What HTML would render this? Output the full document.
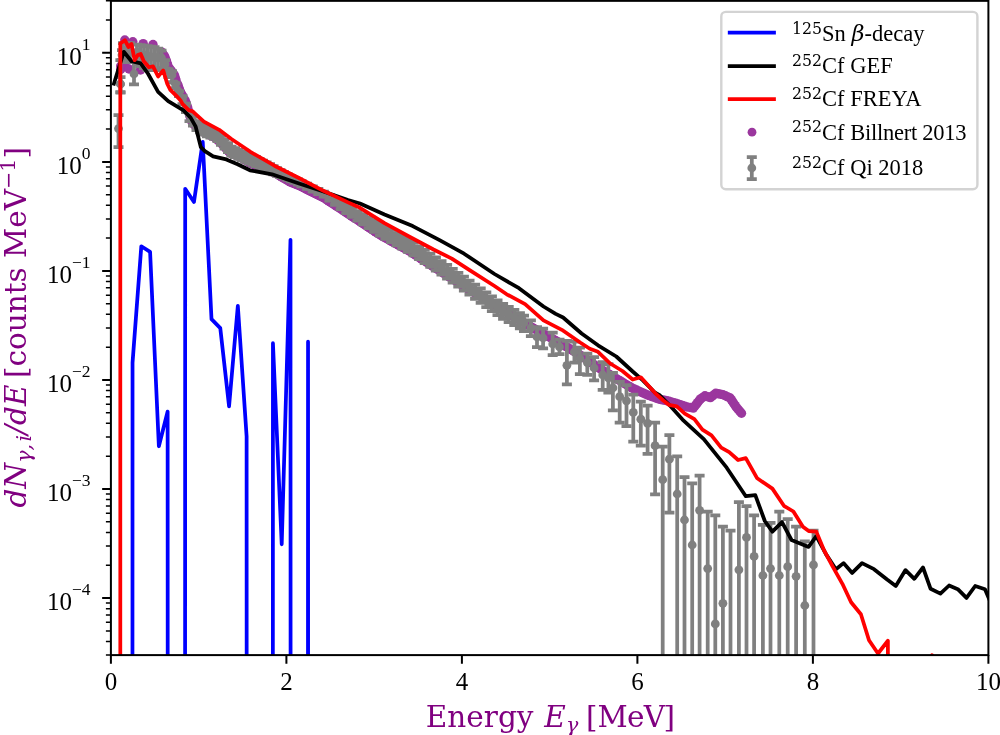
<!DOCTYPE html>
<html><head><meta charset="utf-8"><style>html,body{margin:0;padding:0;background:#fff;width:1000px;height:735px;overflow:hidden}svg{display:block}</style></head><body>
<svg width="1000" height="735" viewBox="0 0 1000 735">
<rect width="1000" height="735" fill="#fff"/>
<defs><clipPath id="ax"><rect x="110.9" y="0.84" width="877.5" height="654.26"/></clipPath></defs>
<g clip-path="url(#ax)">
<g fill="#9b379e">
<circle cx="120.7" cy="66" r="4.7"/>
<circle cx="120.7" cy="69.5" r="4.7"/>
<circle cx="124.8" cy="40" r="4.7"/>
<circle cx="125" cy="64" r="4.7"/>
<circle cx="129" cy="69" r="4.7"/>
<circle cx="132.8" cy="41.7" r="4.7"/>
<circle cx="140.5" cy="70" r="4.7"/>
<circle cx="143.2" cy="43.6" r="4.7"/>
<circle cx="153" cy="44.5" r="4.7"/>
<circle cx="161.5" cy="51.9" r="4.7"/>
<circle cx="163" cy="53.95" r="4.7"/>
<circle cx="164.5" cy="56" r="4.7"/>
<circle cx="165.5" cy="58.5" r="4.7"/>
<circle cx="166.5" cy="61" r="4.7"/>
<circle cx="167.5" cy="64" r="4.7"/>
<circle cx="168.5" cy="67" r="4.7"/>
<circle cx="170" cy="69" r="4.7"/>
<circle cx="171.5" cy="71" r="4.7"/>
<circle cx="172.95" cy="73" r="4.7"/>
<circle cx="174.4" cy="75" r="4.7"/>
<circle cx="175.2" cy="77.5" r="4.7"/>
<circle cx="176" cy="80" r="4.7"/>
<circle cx="177.5" cy="84" r="4.7"/>
<circle cx="178.5" cy="86.67" r="4.7"/>
<circle cx="179.5" cy="89.33" r="4.7"/>
<circle cx="180.5" cy="92" r="4.7"/>
<circle cx="181.75" cy="94.25" r="4.7"/>
<circle cx="183" cy="96.5" r="4.7"/>
<circle cx="185" cy="100" r="4.7"/>
<circle cx="185.83" cy="102.33" r="4.7"/>
<circle cx="186.67" cy="104.67" r="4.7"/>
<circle cx="187.5" cy="107" r="4.7"/>
<circle cx="188.17" cy="109.67" r="4.7"/>
<circle cx="188.83" cy="112.33" r="4.7"/>
<circle cx="189.5" cy="115" r="4.7"/>
<circle cx="190.33" cy="117.33" r="4.7"/>
<circle cx="191.17" cy="119.67" r="4.7"/>
<circle cx="192" cy="122" r="4.7"/>
<circle cx="193.67" cy="124" r="4.7"/>
<circle cx="195.33" cy="126" r="4.7"/>
<circle cx="197" cy="128" r="4.7"/>
<circle cx="199" cy="129.25" r="4.7"/>
<circle cx="201" cy="130.5" r="4.7"/>
<circle cx="203" cy="131.75" r="4.7"/>
<circle cx="205" cy="133" r="4.7"/>
<circle cx="207.25" cy="134" r="4.7"/>
<circle cx="209.5" cy="135" r="4.7"/>
<circle cx="211.75" cy="136" r="4.7"/>
<circle cx="214" cy="137" r="4.7"/>
<circle cx="216" cy="138.75" r="4.7"/>
<circle cx="218" cy="140.5" r="4.7"/>
<circle cx="220" cy="142.25" r="4.7"/>
<circle cx="222" cy="144" r="4.7"/>
<circle cx="223.6" cy="145.8" r="4.7"/>
<circle cx="225.2" cy="147.6" r="4.7"/>
<circle cx="226.8" cy="149.4" r="4.7"/>
<circle cx="228.4" cy="151.2" r="4.7"/>
<circle cx="230" cy="153" r="4.7"/>
<circle cx="232.5" cy="154" r="4.7"/>
<circle cx="235" cy="155" r="4.7"/>
<circle cx="237.5" cy="156" r="4.7"/>
<circle cx="240" cy="157" r="4.7"/>
<circle cx="242" cy="158.2" r="4.7"/>
<circle cx="244" cy="159.4" r="4.7"/>
<circle cx="246" cy="160.6" r="4.7"/>
<circle cx="248" cy="161.8" r="4.7"/>
<circle cx="250" cy="163" r="4.7"/>
<circle cx="252.5" cy="164" r="4.7"/>
<circle cx="255" cy="165" r="4.7"/>
<circle cx="257.5" cy="166" r="4.7"/>
<circle cx="260" cy="167" r="4.7"/>
<circle cx="262.14" cy="167.86" r="4.7"/>
<circle cx="264.29" cy="168.71" r="4.7"/>
<circle cx="266.43" cy="169.57" r="4.7"/>
<circle cx="268.57" cy="170.43" r="4.7"/>
<circle cx="270.71" cy="171.29" r="4.7"/>
<circle cx="272.86" cy="172.14" r="4.7"/>
<circle cx="275" cy="173" r="4.7"/>
<circle cx="277.14" cy="174.29" r="4.7"/>
<circle cx="279.29" cy="175.57" r="4.7"/>
<circle cx="281.43" cy="176.86" r="4.7"/>
<circle cx="283.57" cy="178.14" r="4.7"/>
<circle cx="285.71" cy="179.43" r="4.7"/>
<circle cx="287.86" cy="180.71" r="4.7"/>
<circle cx="290" cy="182" r="4.7"/>
<circle cx="292.5" cy="183" r="4.7"/>
<circle cx="295" cy="184" r="4.7"/>
<circle cx="297.5" cy="185" r="4.7"/>
<circle cx="300" cy="186" r="4.7"/>
<circle cx="302.04" cy="187.03" r="4.7"/>
<circle cx="304.08" cy="188.05" r="4.7"/>
<circle cx="306.12" cy="189.07" r="4.7"/>
<circle cx="308.17" cy="190.1" r="4.7"/>
<circle cx="310.21" cy="191.12" r="4.7"/>
<circle cx="312.25" cy="192.15" r="4.7"/>
<circle cx="314.29" cy="193.18" r="4.7"/>
<circle cx="316.33" cy="194.2" r="4.7"/>
<circle cx="318.38" cy="195.23" r="4.7"/>
<circle cx="320.42" cy="196.25" r="4.7"/>
<circle cx="322.46" cy="197.28" r="4.7"/>
<circle cx="324.5" cy="198.3" r="4.7"/>
<circle cx="326.44" cy="199.58" r="4.7"/>
<circle cx="328.38" cy="200.85" r="4.7"/>
<circle cx="330.31" cy="202.12" r="4.7"/>
<circle cx="332.25" cy="203.4" r="4.7"/>
<circle cx="334.19" cy="204.68" r="4.7"/>
<circle cx="336.12" cy="205.95" r="4.7"/>
<circle cx="338.06" cy="207.22" r="4.7"/>
<circle cx="340" cy="208.5" r="4.7"/>
<circle cx="341.86" cy="209.73" r="4.7"/>
<circle cx="343.73" cy="210.95" r="4.7"/>
<circle cx="345.59" cy="212.18" r="4.7"/>
<circle cx="347.45" cy="213.41" r="4.7"/>
<circle cx="349.32" cy="214.64" r="4.7"/>
<circle cx="351.18" cy="215.86" r="4.7"/>
<circle cx="353.05" cy="217.09" r="4.7"/>
<circle cx="354.91" cy="218.32" r="4.7"/>
<circle cx="356.77" cy="219.55" r="4.7"/>
<circle cx="358.64" cy="220.77" r="4.7"/>
<circle cx="360.5" cy="222" r="4.7"/>
<circle cx="362.36" cy="223.23" r="4.7"/>
<circle cx="364.23" cy="224.45" r="4.7"/>
<circle cx="366.09" cy="225.68" r="4.7"/>
<circle cx="367.95" cy="226.91" r="4.7"/>
<circle cx="369.82" cy="228.14" r="4.7"/>
<circle cx="371.68" cy="229.36" r="4.7"/>
<circle cx="373.55" cy="230.59" r="4.7"/>
<circle cx="375.41" cy="231.82" r="4.7"/>
<circle cx="377.27" cy="233.05" r="4.7"/>
<circle cx="379.14" cy="234.27" r="4.7"/>
<circle cx="381" cy="235.5" r="4.7"/>
<circle cx="382.93" cy="236.57" r="4.7"/>
<circle cx="384.87" cy="237.63" r="4.7"/>
<circle cx="386.8" cy="238.7" r="4.7"/>
<circle cx="388.73" cy="239.77" r="4.7"/>
<circle cx="390.67" cy="240.83" r="4.7"/>
<circle cx="392.6" cy="241.9" r="4.7"/>
<circle cx="394.53" cy="242.97" r="4.7"/>
<circle cx="396.47" cy="244.03" r="4.7"/>
<circle cx="398.4" cy="245.1" r="4.7"/>
<circle cx="400.33" cy="246.17" r="4.7"/>
<circle cx="402.27" cy="247.23" r="4.7"/>
<circle cx="404.2" cy="248.3" r="4.7"/>
<circle cx="406.13" cy="249.37" r="4.7"/>
<circle cx="408.07" cy="250.43" r="4.7"/>
<circle cx="410" cy="251.5" r="4.7"/>
<circle cx="411.88" cy="252.72" r="4.7"/>
<circle cx="413.75" cy="253.94" r="4.7"/>
<circle cx="415.62" cy="255.16" r="4.7"/>
<circle cx="417.5" cy="256.38" r="4.7"/>
<circle cx="419.38" cy="257.59" r="4.7"/>
<circle cx="421.25" cy="258.81" r="4.7"/>
<circle cx="423.12" cy="260.03" r="4.7"/>
<circle cx="425" cy="261.25" r="4.7"/>
<circle cx="426.88" cy="262.47" r="4.7"/>
<circle cx="428.75" cy="263.69" r="4.7"/>
<circle cx="430.62" cy="264.91" r="4.7"/>
<circle cx="432.5" cy="266.12" r="4.7"/>
<circle cx="434.38" cy="267.34" r="4.7"/>
<circle cx="436.25" cy="268.56" r="4.7"/>
<circle cx="438.12" cy="269.78" r="4.7"/>
<circle cx="440" cy="271" r="4.7"/>
<circle cx="441.88" cy="272.19" r="4.7"/>
<circle cx="443.75" cy="273.38" r="4.7"/>
<circle cx="445.62" cy="274.56" r="4.7"/>
<circle cx="447.5" cy="275.75" r="4.7"/>
<circle cx="449.38" cy="276.94" r="4.7"/>
<circle cx="451.25" cy="278.12" r="4.7"/>
<circle cx="453.12" cy="279.31" r="4.7"/>
<circle cx="455" cy="280.5" r="4.7"/>
<circle cx="456.88" cy="281.69" r="4.7"/>
<circle cx="458.75" cy="282.88" r="4.7"/>
<circle cx="460.62" cy="284.06" r="4.7"/>
<circle cx="462.5" cy="285.25" r="4.7"/>
<circle cx="464.38" cy="286.44" r="4.7"/>
<circle cx="466.25" cy="287.62" r="4.7"/>
<circle cx="468.12" cy="288.81" r="4.7"/>
<circle cx="470" cy="290" r="4.7"/>
<circle cx="472" cy="291.2" r="4.7"/>
<circle cx="474" cy="292.4" r="4.7"/>
<circle cx="476" cy="293.6" r="4.7"/>
<circle cx="478" cy="294.8" r="4.7"/>
<circle cx="480" cy="296" r="4.7"/>
<circle cx="482" cy="297.2" r="4.7"/>
<circle cx="484" cy="298.4" r="4.7"/>
<circle cx="486" cy="299.6" r="4.7"/>
<circle cx="488" cy="300.8" r="4.7"/>
<circle cx="490" cy="302" r="4.7"/>
<circle cx="492" cy="303.2" r="4.7"/>
<circle cx="494" cy="304.4" r="4.7"/>
<circle cx="496" cy="305.6" r="4.7"/>
<circle cx="498" cy="306.8" r="4.7"/>
<circle cx="500" cy="308" r="4.7"/>
<circle cx="502" cy="309.24" r="4.7"/>
<circle cx="504" cy="310.48" r="4.7"/>
<circle cx="506" cy="311.72" r="4.7"/>
<circle cx="508" cy="312.96" r="4.7"/>
<circle cx="510" cy="314.2" r="4.7"/>
<circle cx="512" cy="315.44" r="4.7"/>
<circle cx="514" cy="316.68" r="4.7"/>
<circle cx="516" cy="317.92" r="4.7"/>
<circle cx="518" cy="319.16" r="4.7"/>
<circle cx="520" cy="320.4" r="4.7"/>
<circle cx="522" cy="321.56" r="4.7"/>
<circle cx="524" cy="322.72" r="4.7"/>
<circle cx="526" cy="323.88" r="4.7"/>
<circle cx="528" cy="325.04" r="4.7"/>
<circle cx="530" cy="326.2" r="4.7"/>
<circle cx="532" cy="327.36" r="4.7"/>
<circle cx="534" cy="328.52" r="4.7"/>
<circle cx="536" cy="329.68" r="4.7"/>
<circle cx="538" cy="330.84" r="4.7"/>
<circle cx="540" cy="332" r="4.7"/>
<circle cx="542" cy="333.1" r="4.7"/>
<circle cx="544" cy="334.2" r="4.7"/>
<circle cx="546" cy="335.3" r="4.7"/>
<circle cx="548" cy="336.4" r="4.7"/>
<circle cx="550" cy="337.5" r="4.7"/>
<circle cx="552" cy="338.6" r="4.7"/>
<circle cx="554" cy="339.7" r="4.7"/>
<circle cx="556" cy="340.8" r="4.7"/>
<circle cx="558" cy="341.9" r="4.7"/>
<circle cx="560" cy="343" r="4.7"/>
<circle cx="562" cy="344.2" r="4.7"/>
<circle cx="564" cy="345.4" r="4.7"/>
<circle cx="566" cy="346.6" r="4.7"/>
<circle cx="568" cy="347.8" r="4.7"/>
<circle cx="570" cy="349" r="4.7"/>
<circle cx="572" cy="350.2" r="4.7"/>
<circle cx="574" cy="351.4" r="4.7"/>
<circle cx="576" cy="352.6" r="4.7"/>
<circle cx="578" cy="353.8" r="4.7"/>
<circle cx="580" cy="355" r="4.7"/>
<circle cx="581.82" cy="356.25" r="4.7"/>
<circle cx="583.64" cy="357.51" r="4.7"/>
<circle cx="585.45" cy="358.76" r="4.7"/>
<circle cx="587.27" cy="360.02" r="4.7"/>
<circle cx="589.09" cy="361.27" r="4.7"/>
<circle cx="590.91" cy="362.53" r="4.7"/>
<circle cx="592.73" cy="363.78" r="4.7"/>
<circle cx="594.55" cy="365.04" r="4.7"/>
<circle cx="596.36" cy="366.29" r="4.7"/>
<circle cx="598.18" cy="367.55" r="4.7"/>
<circle cx="600" cy="368.8" r="4.7"/>
<circle cx="602" cy="370" r="4.7"/>
<circle cx="604" cy="371.2" r="4.7"/>
<circle cx="606" cy="372.4" r="4.7"/>
<circle cx="608" cy="373.6" r="4.7"/>
<circle cx="610" cy="374.8" r="4.7"/>
<circle cx="612" cy="376" r="4.7"/>
<circle cx="614" cy="377.2" r="4.7"/>
<circle cx="616" cy="378.4" r="4.7"/>
<circle cx="618" cy="379.6" r="4.7"/>
<circle cx="620" cy="380.8" r="4.7"/>
<circle cx="622" cy="382" r="4.7"/>
<circle cx="624" cy="383.2" r="4.7"/>
<circle cx="626" cy="384.4" r="4.7"/>
<circle cx="628" cy="385.6" r="4.7"/>
<circle cx="630" cy="386.8" r="4.7"/>
<circle cx="632" cy="388" r="4.7"/>
<circle cx="634.29" cy="389.03" r="4.7"/>
<circle cx="636.57" cy="390.06" r="4.7"/>
<circle cx="638.86" cy="391.09" r="4.7"/>
<circle cx="641.14" cy="392.11" r="4.7"/>
<circle cx="643.43" cy="393.14" r="4.7"/>
<circle cx="645.71" cy="394.17" r="4.7"/>
<circle cx="648" cy="395.2" r="4.7"/>
<circle cx="650.4" cy="396.04" r="4.7"/>
<circle cx="652.8" cy="396.88" r="4.7"/>
<circle cx="655.2" cy="397.72" r="4.7"/>
<circle cx="657.6" cy="398.56" r="4.7"/>
<circle cx="660" cy="399.4" r="4.7"/>
<circle cx="662.25" cy="399.85" r="4.7"/>
<circle cx="664.5" cy="400.3" r="4.7"/>
<circle cx="666.75" cy="400.75" r="4.7"/>
<circle cx="669" cy="401.2" r="4.7"/>
<circle cx="671.25" cy="401.9" r="4.7"/>
<circle cx="673.5" cy="402.6" r="4.7"/>
<circle cx="675.75" cy="403.3" r="4.7"/>
<circle cx="678" cy="404" r="4.7"/>
<circle cx="680.25" cy="404.75" r="4.7"/>
<circle cx="682.5" cy="405.5" r="4.7"/>
<circle cx="684.75" cy="406.25" r="4.7"/>
<circle cx="687" cy="407" r="4.7"/>
<circle cx="690.15" cy="407.55" r="4.7"/>
<circle cx="693.3" cy="408.1" r="4.7"/>
<circle cx="694.74" cy="406.26" r="4.7"/>
<circle cx="696.18" cy="404.42" r="4.7"/>
<circle cx="697.62" cy="402.58" r="4.7"/>
<circle cx="699.06" cy="400.74" r="4.7"/>
<circle cx="700.5" cy="398.9" r="4.7"/>
<circle cx="702.75" cy="397.35" r="4.7"/>
<circle cx="705" cy="395.8" r="4.7"/>
<circle cx="707.7" cy="396.7" r="4.7"/>
<circle cx="710.4" cy="397.6" r="4.7"/>
<circle cx="712.2" cy="396.17" r="4.7"/>
<circle cx="714" cy="394.73" r="4.7"/>
<circle cx="715.8" cy="393.3" r="4.7"/>
<circle cx="718.2" cy="393.77" r="4.7"/>
<circle cx="720.6" cy="394.23" r="4.7"/>
<circle cx="723" cy="394.7" r="4.7"/>
<circle cx="725.4" cy="395.8" r="4.7"/>
<circle cx="727.8" cy="396.9" r="4.7"/>
<circle cx="730.2" cy="398" r="4.7"/>
<circle cx="731.46" cy="399.9" r="4.7"/>
<circle cx="732.72" cy="401.8" r="4.7"/>
<circle cx="733.98" cy="403.7" r="4.7"/>
<circle cx="735.24" cy="405.6" r="4.7"/>
<circle cx="736.5" cy="407.5" r="4.7"/>
<circle cx="738.17" cy="409.43" r="4.7"/>
<circle cx="739.83" cy="411.37" r="4.7"/>
<circle cx="741.5" cy="413.3" r="4.7"/>
</g>
<g stroke="#808080" stroke-width="3.75" fill="none">
<path d="M118.5 115V147M113.5 115h10M113.5 147h10"/>
<path d="M120.4 60V92M115.4 60h10M115.4 92h10"/>
<path d="M122 50V60M117 50h10M117 60h10"/>
<path d="M120.5 77V92.5M115.5 77h10M115.5 92.5h10"/>
<path d="M123 43V62M118 43h10M118 62h10"/>
<path d="M126.5 42.8V60M121.5 42.8h10M121.5 60h10"/>
<path d="M130 43V62M125 43h10M125 62h10"/>
<path d="M134 62V84.4M129 62h10M129 84.4h10"/>
<path d="M137 44.5V64M132 44.5h10M132 64h10"/>
<path d="M140.5 45V66M135.5 45h10M135.5 66h10"/>
<path d="M144 45.5V68M139 45.5h10M139 68h10"/>
<path d="M147.5 46V70M142.5 46h10M142.5 70h10"/>
<path d="M151 46.5V70M146 46.5h10M146 70h10"/>
<path d="M154.5 47V70M149.5 47h10M149.5 70h10"/>
<path d="M158 48.5V70M153 48.5h10M153 70h10"/>
<path d="M161.5 50.5V68M156.5 50.5h10M156.5 68h10"/>
<path d="M165 60V72M160 60h10M160 72h10"/>
<path d="M168.5 69V77M163.5 69h10M163.5 77h10"/>
<path d="M172 71V82M167 71h10M167 82h10"/>
<path d="M175.5 83V88M170.5 83h10M170.5 88h10"/>
<path d="M179 91V96M174 91h10M174 96h10"/>
<path d="M182.5 96V104M177.5 96h10M177.5 104h10"/>
<path d="M186 103.5V112M181 103.5h10M181 112h10"/>
<path d="M189.5 113V121M184.5 113h10M184.5 121h10"/>
<path d="M193 116.65V125.65M188 116.65h10M188 125.65h10"/>
<path d="M196.5 121.24V130.24M191.5 121.24h10M191.5 130.24h10"/>
<path d="M200 123.47V132.47M195 123.47h10M195 132.47h10"/>
<path d="M203.5 125.57V134.57M198.5 125.57h10M198.5 134.57h10"/>
<path d="M207 127.38V136.38M202 127.38h10M202 136.38h10"/>
<path d="M210.5 128.58V137.58M205.5 128.58h10M205.5 137.58h10"/>
<path d="M214 129.78V138.78M209 129.78h10M209 138.78h10"/>
<path d="M217.5 132.06V141.06M212.5 132.06h10M212.5 141.06h10"/>
<path d="M221 135.94V144.94M216 135.94h10M216 144.94h10"/>
<path d="M224.5 139.69V148.69M219.5 139.69h10M219.5 148.69h10"/>
<path d="M228 143.14V152.14M223 143.14h10M223 152.14h10"/>
<path d="M231.5 146.55V155.55M226.5 146.55h10M226.5 155.55h10"/>
<path d="M235 148.17V157.17M230 148.17h10M230 157.17h10"/>
<path d="M238.5 149.8V158.8M233.5 149.8h10M233.5 158.8h10"/>
<path d="M242 151.4V160.4M237 151.4h10M237 160.4h10"/>
<path d="M245.5 152.96V161.96M240.5 152.96h10M240.5 161.96h10"/>
<path d="M249 154.4V163.4M244 154.4h10M244 163.4h10"/>
<path d="M252.5 155.77V164.77M247.5 155.77h10M247.5 164.77h10"/>
<path d="M256 157.15V166.15M251 157.15h10M251 166.15h10"/>
<path d="M259.5 158.81V167.81M254.5 158.81h10M254.5 167.81h10"/>
<path d="M263 160.57V169.57M258 160.57h10M258 169.57h10"/>
<path d="M266.5 162.34V171.34M261.5 162.34h10M261.5 171.34h10"/>
<path d="M270 164.1V173.1M265 164.1h10M265 173.1h10"/>
<path d="M273.5 166.11V174.45M268.5 166.11h10M268.5 174.45h10"/>
<path d="M277 168.12V175.8M272 168.12h10M272 175.8h10"/>
<path d="M280.5 170.14V177.14M275.5 170.14h10M275.5 177.14h10"/>
<path d="M284 172.15V178.49M279 172.15h10M279 178.49h10"/>
<path d="M287.5 174.16V179.84M282.5 174.16h10M282.5 179.84h10"/>
<path d="M291 176.08V181.28M286 176.08h10M286 181.28h10"/>
<path d="M294.5 177.76V182.96M289.5 177.76h10M289.5 182.96h10"/>
<path d="M298 179.44V184.64M293 179.44h10M293 184.64h10"/>
<path d="M301.5 181.1V186.3M296.5 181.1h10M296.5 186.3h10"/>
<path d="M307.1 183.7V188.9M302.1 183.7h10M302.1 188.9h10"/>
<path d="M312.7 186.31V191.51M307.7 186.31h10M307.7 191.51h10"/>
<path d="M318.3 188.92V194.12M313.3 188.92h10M313.3 194.12h10"/>
<path d="M323.9 191.52V196.72M318.9 191.52h10M318.9 196.72h10"/>
<path d="M329.5 195.08V200.56M324.5 195.08h10M324.5 200.56h10"/>
<path d="M335.1 198.38V204.92M330.1 198.38h10M330.1 204.92h10"/>
<path d="M340.7 201.64V209.23M335.7 201.64h10M335.7 209.23h10"/>
<path d="M346.3 204.64V213.17M341.3 204.64h10M341.3 213.17h10"/>
<path d="M351.9 207.83V216.92M346.9 207.83h10M346.9 216.92h10"/>
<path d="M357.5 211.02V220.67M352.5 211.02h10M352.5 220.67h10"/>
<path d="M363.1 214.21V224.42M358.1 214.21h10M358.1 224.42h10"/>
<path d="M368.7 217.4V228.17M363.7 217.4h10M363.7 228.17h10"/>
<path d="M374.3 220.58V231.91M369.3 220.58h10M369.3 231.91h10"/>
<path d="M379.9 223.77V235.66M374.9 223.77h10M374.9 235.66h10"/>
<path d="M385.5 226.87V238.98M380.5 226.87h10M380.5 238.98h10"/>
<path d="M391.1 229.95V242.2M386.1 229.95h10M386.1 242.2h10"/>
<path d="M396.7 233.03V245.42M391.7 233.03h10M391.7 245.42h10"/>
<path d="M402.3 236.11V248.63M397.3 236.11h10M397.3 248.63h10"/>
<path d="M407.9 239.19V251.85M402.9 239.19h10M402.9 251.85h10"/>
<path d="M413.5 242.64V255.43M408.5 242.64h10M408.5 255.43h10"/>
<path d="M419.1 246.3V259.23M414.1 246.3h10M414.1 259.23h10"/>
<path d="M424.7 249.97V263.03M419.7 249.97h10M419.7 263.03h10"/>
<path d="M430.3 253.63V266.84M425.3 253.63h10M425.3 266.84h10"/>
<path d="M435.9 257.3V270.64M430.9 257.3h10M430.9 270.64h10"/>
<path d="M441.5 261.03V274.5M436.5 261.03h10M436.5 274.5h10"/>
<path d="M447.1 264.93V278.55M442.1 264.93h10M442.1 278.55h10"/>
<path d="M452.7 268.84V282.59M447.7 268.84h10M447.7 282.59h10"/>
<path d="M458.3 272.75V286.64M453.3 272.75h10M453.3 286.64h10"/>
<path d="M463.9 276.66V290.68M458.9 276.66h10M458.9 290.68h10"/>
<path d="M469.5 280.56V294.73M464.5 280.56h10M464.5 294.73h10"/>
<path d="M475.1 284.52V298.82M470.1 284.52h10M470.1 298.82h10"/>
<path d="M480.7 288.48V302.92M475.7 288.48h10M475.7 302.92h10"/>
<path d="M486.3 292.45V307.02M481.3 292.45h10M481.3 307.02h10"/>
<path d="M491.9 296.41V311.12M486.9 296.41h10M486.9 311.12h10"/>
<path d="M497.5 300.38V315.22M492.5 300.38h10M492.5 315.22h10"/>
<path d="M503.1 303.84V318.82M498.1 303.84h10M498.1 318.82h10"/>
<path d="M508.7 306.9V322.02M503.7 306.9h10M503.7 322.02h10"/>
<path d="M514.3 309.95V325.21M509.3 309.95h10M509.3 325.21h10"/>
<path d="M519.9 313.01V328.41M514.9 313.01h10M514.9 328.41h10"/>
<path d="M524 315.6V331M519 315.6h10M519 331h10"/>
<path d="M530.9 320.4V336M525.9 320.4h10M525.9 336h10"/>
<path d="M537 327.2V347M532 327.2h10M532 347h10"/>
<path d="M543.1 328.6V348.3M538.1 328.6h10M538.1 348.3h10"/>
<path d="M552.7 332.7V355.1M547.7 332.7h10M547.7 355.1h10"/>
<path d="M559.5 339.5V354M554.5 339.5h10M554.5 354h10"/>
<path d="M566.9 340.8V384.4M561.9 340.8h10M561.9 384.4h10"/>
<path d="M574.4 341.5V362.6M569.4 341.5h10M569.4 362.6h10"/>
<path d="M579.9 347.6V374.1M574.9 347.6h10M574.9 374.1h10"/>
<path d="M587.3 353.7V374.8M582.3 353.7h10M582.3 374.8h10"/>
<path d="M594.1 357V380.3M589.1 357h10M589.1 380.3h10"/>
<path d="M602.7 362V389.8M597.7 362h10M597.7 389.8h10"/>
<path d="M608.4 364V392.5M603.4 364h10M603.4 392.5h10"/>
<path d="M612.9 372.9V410.3M607.9 372.9h10M607.9 410.3h10"/>
<path d="M619.7 381.8V422.6M614.7 381.8h10M614.7 422.6h10"/>
<path d="M626.5 385.2V426M621.5 385.2h10M621.5 426h10"/>
<path d="M633.3 394.7V441.6M628.3 394.7h10M628.3 441.6h10"/>
<path d="M640.8 401.5V445.7M635.8 401.5h10M635.8 445.7h10"/>
<path d="M647.6 405.6V453.9M642.6 405.6h10M642.6 453.9h10"/>
<path d="M655.1 422.6V494.3M650.1 422.6h10M650.1 494.3h10"/>
<path d="M662.7 446.5V40000M657.7 446.5h10M657.7 40000h10"/>
<path d="M669.4 435V512.6M664.4 435h10M664.4 512.6h10"/>
<path d="M677.2 456.4V40000M672.2 456.4h10M672.2 40000h10"/>
<path d="M684.5 477V40000M679.5 477h10M679.5 40000h10"/>
<path d="M692.2 483.3V40000M687.2 483.3h10M687.2 40000h10"/>
<path d="M699.6 475.6V40000M694.6 475.6h10M694.6 40000h10"/>
<path d="M707.7 511.7V40000M702.7 511.7h10M702.7 40000h10"/>
<path d="M715.3 515.3V40000M710.3 515.3h10M710.3 40000h10"/>
<path d="M722.9 526.7V40000M717.9 526.7h10M717.9 40000h10"/>
<path d="M730.5 530.5V40000M725.5 530.5h10M725.5 40000h10"/>
<path d="M738.9 502V40000M733.9 502h10M733.9 40000h10"/>
<path d="M746.5 506V40000M741.5 506h10M741.5 40000h10"/>
<path d="M754.1 515.3V40000M749.1 515.3h10M749.1 40000h10"/>
<path d="M762.9 524.8V40000M757.9 524.8h10M757.9 40000h10"/>
<path d="M770.5 522.9V40000M765.5 522.9h10M765.5 40000h10"/>
<path d="M779.3 511.5V40000M774.3 511.5h10M774.3 40000h10"/>
<path d="M787.7 519.1V40000M782.7 519.1h10M782.7 40000h10"/>
<path d="M796.1 526.7V40000M791.1 526.7h10M791.1 40000h10"/>
<path d="M804.8 541.3V40000M799.8 541.3h10M799.8 40000h10"/>
<path d="M813.5 530.5V40000M808.5 530.5h10M808.5 40000h10"/>
</g><g fill="#808080">
<circle cx="118.5" cy="128.6" r="4.4"/>
<circle cx="120.4" cy="84" r="4.4"/>
<circle cx="122" cy="55" r="4.4"/>
<circle cx="120.5" cy="84" r="4.4"/>
<circle cx="123" cy="52" r="4.4"/>
<circle cx="126.5" cy="50" r="4.4"/>
<circle cx="130" cy="52" r="4.4"/>
<circle cx="134" cy="74" r="4.4"/>
<circle cx="137" cy="52" r="4.4"/>
<circle cx="140.5" cy="55" r="4.4"/>
<circle cx="144" cy="55" r="4.4"/>
<circle cx="147.5" cy="56" r="4.4"/>
<circle cx="151" cy="57" r="4.4"/>
<circle cx="154.5" cy="57" r="4.4"/>
<circle cx="158" cy="58" r="4.4"/>
<circle cx="161.5" cy="58" r="4.4"/>
<circle cx="165" cy="64" r="4.4"/>
<circle cx="168.5" cy="71" r="4.4"/>
<circle cx="172" cy="75" r="4.4"/>
<circle cx="175.5" cy="84" r="4.4"/>
<circle cx="179" cy="92" r="4.4"/>
<circle cx="182.5" cy="99" r="4.4"/>
<circle cx="186" cy="106" r="4.4"/>
<circle cx="189.5" cy="115" r="4.4"/>
<circle cx="193" cy="121.15" r="4.4"/>
<circle cx="196.5" cy="125.74" r="4.4"/>
<circle cx="200" cy="127.97" r="4.4"/>
<circle cx="203.5" cy="130.07" r="4.4"/>
<circle cx="207" cy="131.88" r="4.4"/>
<circle cx="210.5" cy="133.08" r="4.4"/>
<circle cx="214" cy="134.28" r="4.4"/>
<circle cx="217.5" cy="136.56" r="4.4"/>
<circle cx="221" cy="140.44" r="4.4"/>
<circle cx="224.5" cy="144.19" r="4.4"/>
<circle cx="228" cy="147.64" r="4.4"/>
<circle cx="231.5" cy="151.05" r="4.4"/>
<circle cx="235" cy="152.67" r="4.4"/>
<circle cx="238.5" cy="154.3" r="4.4"/>
<circle cx="242" cy="155.9" r="4.4"/>
<circle cx="245.5" cy="157.46" r="4.4"/>
<circle cx="249" cy="158.9" r="4.4"/>
<circle cx="252.5" cy="160.27" r="4.4"/>
<circle cx="256" cy="161.65" r="4.4"/>
<circle cx="259.5" cy="163.31" r="4.4"/>
<circle cx="263" cy="165.07" r="4.4"/>
<circle cx="266.5" cy="166.84" r="4.4"/>
<circle cx="270" cy="168.6" r="4.4"/>
<circle cx="273.5" cy="170.28" r="4.4"/>
<circle cx="277" cy="171.96" r="4.4"/>
<circle cx="280.5" cy="173.64" r="4.4"/>
<circle cx="284" cy="175.32" r="4.4"/>
<circle cx="287.5" cy="177" r="4.4"/>
<circle cx="291" cy="178.68" r="4.4"/>
<circle cx="294.5" cy="180.36" r="4.4"/>
<circle cx="298" cy="182.04" r="4.4"/>
<circle cx="301.5" cy="183.7" r="4.4"/>
<circle cx="307.1" cy="186.3" r="4.4"/>
<circle cx="312.7" cy="188.91" r="4.4"/>
<circle cx="318.3" cy="191.52" r="4.4"/>
<circle cx="323.9" cy="194.12" r="4.4"/>
<circle cx="329.5" cy="197.82" r="4.4"/>
<circle cx="335.1" cy="201.65" r="4.4"/>
<circle cx="340.7" cy="205.43" r="4.4"/>
<circle cx="346.3" cy="208.9" r="4.4"/>
<circle cx="351.9" cy="212.37" r="4.4"/>
<circle cx="357.5" cy="215.84" r="4.4"/>
<circle cx="363.1" cy="219.31" r="4.4"/>
<circle cx="368.7" cy="222.78" r="4.4"/>
<circle cx="374.3" cy="226.25" r="4.4"/>
<circle cx="379.9" cy="229.72" r="4.4"/>
<circle cx="385.5" cy="232.93" r="4.4"/>
<circle cx="391.1" cy="236.08" r="4.4"/>
<circle cx="396.7" cy="239.22" r="4.4"/>
<circle cx="402.3" cy="242.37" r="4.4"/>
<circle cx="407.9" cy="245.52" r="4.4"/>
<circle cx="413.5" cy="249.03" r="4.4"/>
<circle cx="419.1" cy="252.77" r="4.4"/>
<circle cx="424.7" cy="256.5" r="4.4"/>
<circle cx="430.3" cy="260.23" r="4.4"/>
<circle cx="435.9" cy="263.97" r="4.4"/>
<circle cx="441.5" cy="267.77" r="4.4"/>
<circle cx="447.1" cy="271.74" r="4.4"/>
<circle cx="452.7" cy="275.72" r="4.4"/>
<circle cx="458.3" cy="279.69" r="4.4"/>
<circle cx="463.9" cy="283.67" r="4.4"/>
<circle cx="469.5" cy="287.65" r="4.4"/>
<circle cx="475.1" cy="291.67" r="4.4"/>
<circle cx="480.7" cy="295.7" r="4.4"/>
<circle cx="486.3" cy="299.74" r="4.4"/>
<circle cx="491.9" cy="303.77" r="4.4"/>
<circle cx="497.5" cy="307.8" r="4.4"/>
<circle cx="503.1" cy="311.33" r="4.4"/>
<circle cx="508.7" cy="314.46" r="4.4"/>
<circle cx="514.3" cy="317.58" r="4.4"/>
<circle cx="519.9" cy="320.71" r="4.4"/>
<circle cx="524" cy="323" r="4.4"/>
<circle cx="530.9" cy="328" r="4.4"/>
<circle cx="537" cy="337" r="4.4"/>
<circle cx="543.1" cy="338" r="4.4"/>
<circle cx="552.7" cy="344" r="4.4"/>
<circle cx="559.5" cy="347" r="4.4"/>
<circle cx="566.9" cy="365.3" r="4.4"/>
<circle cx="574.4" cy="352" r="4.4"/>
<circle cx="579.9" cy="358.5" r="4.4"/>
<circle cx="587.3" cy="362.6" r="4.4"/>
<circle cx="594.1" cy="368" r="4.4"/>
<circle cx="602.7" cy="375" r="4.4"/>
<circle cx="608.4" cy="378" r="4.4"/>
<circle cx="612.9" cy="387.9" r="4.4"/>
<circle cx="619.7" cy="396.7" r="4.4"/>
<circle cx="626.5" cy="400.8" r="4.4"/>
<circle cx="633.3" cy="412.4" r="4.4"/>
<circle cx="640.8" cy="419.2" r="4.4"/>
<circle cx="647.6" cy="423.3" r="4.4"/>
<circle cx="655.1" cy="445.7" r="4.4"/>
<circle cx="662.7" cy="479.7" r="4.4"/>
<circle cx="669.4" cy="459.2" r="4.4"/>
<circle cx="677.2" cy="494" r="4.4"/>
<circle cx="684.5" cy="520" r="4.4"/>
<circle cx="692.2" cy="545" r="4.4"/>
<circle cx="699.6" cy="510.3" r="4.4"/>
<circle cx="707.7" cy="568.6" r="4.4"/>
<circle cx="715.3" cy="623.9" r="4.4"/>
<circle cx="722.9" cy="603.3" r="4.4"/>
<circle cx="730.5" cy="700" r="4.4"/>
<circle cx="738.9" cy="569.8" r="4.4"/>
<circle cx="746.5" cy="537.4" r="4.4"/>
<circle cx="754.1" cy="556.4" r="4.4"/>
<circle cx="762.9" cy="575.5" r="4.4"/>
<circle cx="770.5" cy="568.6" r="4.4"/>
<circle cx="779.3" cy="575.5" r="4.4"/>
<circle cx="787.7" cy="566.7" r="4.4"/>
<circle cx="796.1" cy="576.3" r="4.4"/>
<circle cx="804.8" cy="605.5" r="4.4"/>
<circle cx="813.5" cy="564.9" r="4.4"/>
</g>
<polyline points="123.76,40000 132.54,362.74 141.31,246.26 150.09,251.8 158.86,446.25 167.64,411.58 176.41,40000 185.19,188.78 193.96,201.99 202.74,141.84 211.51,319.15 220.29,328.17 229.06,406.29 237.84,305.82 246.61,436.44 255.39,40000 264.16,40000 272.94,343.21 281.71,544.28 290.49,239.83 299.26,40000 308.04,341.74 316.81,40000" fill="none" stroke="#0000ff" stroke-width="3.75" stroke-linejoin="round" stroke-linecap="square" />
<polyline points="113.9,83.7 123.8,51.8 131.5,61.2 140.7,63.3 147.9,73.5 158.1,91.8 168.2,101.2 183.5,110.4 190.6,117.6 195.7,126.7 200.8,147.1 204.9,151.2 213.1,156.3 226.3,159.4 237.6,164.2 250,170.3 272,174.3 299,183.5 323.5,191.4 348,200 360,203.5 384.5,214.5 412.7,226.1 439.6,240.2 464.1,253.7 494.5,274 519,288.2 543.5,306.5 555.7,313.9 563.1,317.5 581.6,333.5 598,345.3 616.3,356.5 632.7,371.5 642.9,380.4 655.1,392.7 660,395.5 670.8,406.5 682.5,419.6 703.8,439.1 726.7,467.7 745.8,496.2 755.3,495.1 764.8,521 772.4,531.7 782,522.1 791.5,540 808.6,546.9 816.3,536.2 826.1,554.4 835.9,569.2 843.5,563.1 852.2,572.9 862,563.1 874,569.2 887.1,579.5 895.8,586 905.5,570.1 914.3,578.8 923,567.5 930.6,588.8 940.4,593.6 949.1,585.5 957.8,589.2 966.5,597.9 975.2,586 985,589.2 993.8,610" fill="none" stroke="#000000" stroke-width="3.75" stroke-linejoin="round" stroke-linecap="square" />
<polyline points="120.1,40000 120.3,43.5 124.9,40.2 128.5,47 131.5,43.9 134.6,60.2 137.7,55.1 140.7,54 143.8,61.2 148.9,67.3 153,66.3 158.1,76.5 163.2,70.4 167.2,83.7 170.3,89.8 176.4,95.9 180.4,100.2 182.6,104.1 188.7,110.2 192.7,111.4 194.8,113.3 203.9,121.6 219.2,129.8 231.4,139 246.7,149.2 250,151.6 274.5,165.7 299,178 323.5,190.8 348,202.4 360,207.8 384.5,223.2 409,236.5 433.5,249.5 451.8,258.6 470,270.4 494.5,286 506.7,294.3 525.1,304.1 543.5,320.3 561.8,329.8 580.2,342.5 589.8,348.8 598,351.8 610.2,363.5 622.4,371 632.7,379.5 640.8,377.3 651,388.6 656,394 663.3,400.5 668.8,404.8 676.8,406.4 684.8,413.6 694.4,419.2 702.4,429.6 711.5,435.3 721.2,447.7 729.2,452.1 738.1,460 745.8,458.1 757.2,478.3 772.4,488.6 783.9,505.8 793.4,511.5 802.9,526.7 808.7,531.1 816.3,531.6 823.9,550 832.6,566.4 842.4,583.8 851.1,602.3 860.9,614.3 869,640.3 878,653.5 887.9,640.75 887.9,40000" fill="none" stroke="#ff0000" stroke-width="3.75" stroke-linejoin="round" stroke-linecap="square" />
<polyline points="928.5,662 932,655.2 935.5,662" fill="none" stroke="#ff0000" stroke-width="3.75" stroke-linejoin="round" stroke-linecap="square" />
</g>
<rect x="110.9" y="0.84" width="877.5" height="654.26" fill="none" stroke="#000" stroke-width="2"/>
<path d="M110.9 655.1v8.75M286.4 655.1v8.75M461.9 655.1v8.75M637.4 655.1v8.75M812.9 655.1v8.75M988.4 655.1v8.75" stroke="#000" stroke-width="2"/>
<path d="M110.9 598.06h-8.75M110.9 489.02h-8.75M110.9 379.98h-8.75M110.9 270.94h-8.75M110.9 161.9h-8.75M110.9 52.86h-8.75" stroke="#000" stroke-width="2"/>
<path d="M110.9 655.07h-5M110.9 641.45h-5M110.9 630.88h-5M110.9 622.25h-5M110.9 614.95h-5M110.9 608.63h-5M110.9 603.05h-5M110.9 565.24h-5M110.9 546.03h-5M110.9 532.41h-5M110.9 521.84h-5M110.9 513.21h-5M110.9 505.91h-5M110.9 499.59h-5M110.9 494.01h-5M110.9 456.2h-5M110.9 436.99h-5M110.9 423.37h-5M110.9 412.8h-5M110.9 404.17h-5M110.9 396.87h-5M110.9 390.55h-5M110.9 384.97h-5M110.9 347.16h-5M110.9 327.95h-5M110.9 314.33h-5M110.9 303.76h-5M110.9 295.13h-5M110.9 287.83h-5M110.9 281.51h-5M110.9 275.93h-5M110.9 238.12h-5M110.9 218.91h-5M110.9 205.29h-5M110.9 194.72h-5M110.9 186.09h-5M110.9 178.79h-5M110.9 172.47h-5M110.9 166.89h-5M110.9 129.08h-5M110.9 109.87h-5M110.9 96.25h-5M110.9 85.68h-5M110.9 77.05h-5M110.9 69.75h-5M110.9 63.43h-5M110.9 57.85h-5M110.9 20.04h-5M110.9 0.83h-5" stroke="#000" stroke-width="1.5"/>
<g font-family="'Liberation Serif', serif" font-size="25" fill="#000">
<text x="110.9" y="689.6" text-anchor="middle">0</text>
<text x="286.4" y="689.6" text-anchor="middle">2</text>
<text x="461.9" y="689.6" text-anchor="middle">4</text>
<text x="637.4" y="689.6" text-anchor="middle">6</text>
<text x="812.9" y="689.6" text-anchor="middle">8</text>
<text x="988.4" y="689.6" text-anchor="middle">10</text>
<text x="90.5" y="610.06" text-anchor="end">10<tspan font-size="17.5" dy="-15">−4</tspan></text>
<text x="90.5" y="501.02" text-anchor="end">10<tspan font-size="17.5" dy="-15">−3</tspan></text>
<text x="90.5" y="391.98" text-anchor="end">10<tspan font-size="17.5" dy="-15">−2</tspan></text>
<text x="90.5" y="282.94" text-anchor="end">10<tspan font-size="17.5" dy="-15">−1</tspan></text>
<text x="90.5" y="173.9" text-anchor="end">10<tspan font-size="17.5" dy="-15">0</tspan></text>
<text x="90.5" y="64.86" text-anchor="end">10<tspan font-size="17.5" dy="-15">1</tspan></text>
</g>
<text x="550.4" y="726.8" text-anchor="middle" font-family="'DejaVu Serif', serif" font-size="29.5" fill="#800080">Energy <tspan font-style="italic" dx="1.5">E</tspan><tspan font-style="italic" font-size="20.65" dy="5">γ</tspan><tspan dy="-5" dx="-1.5"> [</tspan><tspan letter-spacing="-0.7">MeV</tspan><tspan dx="-1">]</tspan></text>
<text transform="translate(26,327.3) rotate(-90)" text-anchor="middle" font-family="'DejaVu Serif', serif" font-size="29.5" fill="#800080"><tspan font-style="italic">dN</tspan><tspan font-style="italic" font-size="20.65" dy="5">γ,</tspan><tspan font-style="italic" font-size="20.65" dx="2.5">i</tspan><tspan font-style="italic" dy="-5">/dE</tspan><tspan dx="-3"> [counts MeV</tspan><tspan font-size="20.65" dy="-11">−1</tspan><tspan dy="11">]</tspan></text>
<rect x="721.3" y="11.9" width="256.1" height="177.4" rx="4.5" fill="#fff" fill-opacity="0.8" stroke="#d3d3d3" stroke-width="2.4"/>
<path d="M729.7 32.7h44.3" stroke="#0000ff" stroke-width="3.75" stroke-linecap="square"/>
<path d="M729.7 66.1h44.3" stroke="#000000" stroke-width="3.75" stroke-linecap="square"/>
<path d="M729.7 99h44.3" stroke="#ff0000" stroke-width="3.75" stroke-linecap="square"/>
<circle cx="752" cy="132.2" r="4.4" fill="#9b379e"/>
<path d="M751.8 157V179M746.8 157h10M746.8 179h10" stroke="#808080" stroke-width="3.75"/>
<circle cx="751.8" cy="168" r="4.4" fill="#808080"/>
<text x="792" y="40.7" font-family="'Liberation Serif', serif" font-size="22.5" fill="#000"><tspan font-family="'DejaVu Serif', serif" font-size="15.75" dy="-7.1">125</tspan><tspan dy="7.1">Sn </tspan><tspan font-family="'DejaVu Serif', serif" font-style="italic">β</tspan>-decay</text>
<text x="792" y="73.4" font-family="'Liberation Serif', serif" font-size="22.5" fill="#000"><tspan font-family="'DejaVu Serif', serif" font-size="15.75" dy="-7.1">252</tspan><tspan dy="7.1">Cf GEF</tspan></text>
<text x="792" y="106.4" font-family="'Liberation Serif', serif" font-size="22.5" fill="#000"><tspan font-family="'DejaVu Serif', serif" font-size="15.75" dy="-7.1">252</tspan><tspan dy="7.1">Cf FREYA</tspan></text>
<text x="792" y="139.5" font-family="'Liberation Serif', serif" font-size="22.5" fill="#000"><tspan font-family="'DejaVu Serif', serif" font-size="15.75" dy="-7.1">252</tspan><tspan dy="7.1">Cf <tspan letter-spacing="-0.25">Billnert 2013</tspan></tspan></text>
<text x="792" y="174.8" font-family="'Liberation Serif', serif" font-size="22.5" fill="#000"><tspan font-family="'DejaVu Serif', serif" font-size="15.75" dy="-7.1">252</tspan><tspan dy="7.1">Cf Qi 2018</tspan></text>
</svg>
</body></html>
